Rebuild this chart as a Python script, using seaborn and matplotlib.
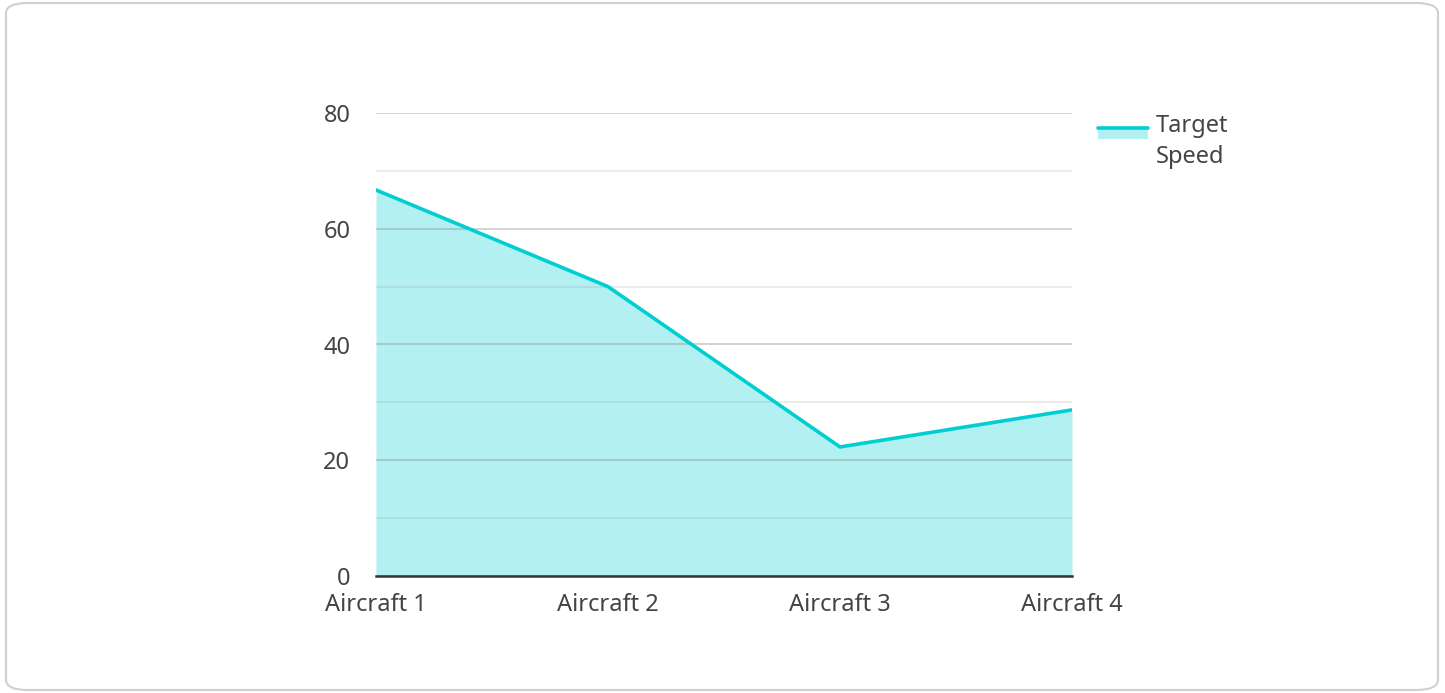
import numpy as np
import pandas as pd
import matplotlib
matplotlib.use("Agg")
import matplotlib.pyplot as plt
import seaborn as sns
from matplotlib.patches import FancyBboxPatch, Rectangle
from matplotlib.lines import Line2D
from matplotlib.legend_handler import HandlerBase
from matplotlib.ticker import MultipleLocator

aircraft = ["Aircraft 1", "Aircraft 2", "Aircraft 3", "Aircraft 4"]
target_speed = [66.7, 50.0, 22.3, 28.7]
series_name = "Target\nSpeed"

line_color = "#00ced1"
text_color = "#444444"

sns.set_style("white")
plt.rcParams["font.family"] = ["Noto Sans", "DejaVu Sans"]

df = pd.DataFrame({"aircraft": aircraft, "speed": target_speed})
df["pos"] = np.arange(len(df))

fig = plt.figure(figsize=(14.45, 6.93), dpi=100)
border = FancyBboxPatch((6 / 1445, 3 / 693), 1432 / 1445, 687 / 693,
                        boxstyle="round,pad=0,rounding_size=0.015",
                        transform=fig.transFigure, facecolor="white",
                        edgecolor="#d0d0d0", linewidth=1.5, zorder=-5)
fig.patches.append(border)

ax = fig.add_axes([376 / 1445, 1 - 576 / 693, (1072 - 376) / 1445, (576 - 113) / 693])
ax.set_facecolor("none")

ax.fill_between(df["pos"], df["speed"], 0, color=line_color, alpha=0.3,
                linewidth=0, zorder=1)
sns.lineplot(data=df, x="pos", y="speed", ax=ax, color=line_color,
             linewidth=2.6, zorder=3, legend=False)

ax.set_xlim(0, 3)
ax.set_ylim(0, 80)
ax.yaxis.set_major_locator(MultipleLocator(20))
ax.yaxis.set_minor_locator(MultipleLocator(10))
ax.grid(which="major", axis="y", color="#808080", alpha=0.4, linewidth=1.2, zorder=2)
ax.grid(which="minor", axis="y", color="#a0a0a0", alpha=0.25, linewidth=1.2, zorder=2)
ax.set_axisbelow(False)
ax.set_xticks(df["pos"])
ax.set_xticklabels(aircraft)
ax.tick_params(axis="both", which="both", length=0, labelsize=17, labelcolor=text_color)
ax.tick_params(axis="x", pad=12.5)
ax.tick_params(axis="y", pad=18.5)
ax.set_xlabel("")
ax.set_ylabel("")
for s in ["top", "right", "left"]:
    ax.spines[s].set_visible(False)
ax.spines["bottom"].set_color("#333333")
ax.spines["bottom"].set_linewidth(1.8)
ax.spines["bottom"].set_zorder(4)


class LineAreaHandler(HandlerBase):
    # swatch sits beside the first text line: line on top, light area under it
    def create_artists(self, legend, orig_handle, xdescent, ydescent, width, height, fontsize, trans):
        y_line = -ydescent + height * 0.65 + 8.6
        rect = Rectangle((-xdescent, y_line - 8.0), width, 8.0,
                         facecolor=line_color, alpha=0.3, edgecolor="none", transform=trans)
        ln = Line2D([-xdescent, -xdescent + width], [y_line] * 2,
                    color=line_color, linewidth=2.6, transform=trans)
        return [rect, ln]


handle = Line2D([], [], color=line_color)
fig.legend([handle], [series_name], handler_map={Line2D: LineAreaHandler()},
           loc="upper left", bbox_to_anchor=(1098 / 1445, 1 - 114 / 693),
           frameon=False, fontsize=17, labelcolor=text_color,
           handlelength=2.1, handleheight=0.7, handletextpad=0.36, borderpad=0,
           borderaxespad=0)
for t in fig.legends[0].get_texts():
    t.set_linespacing(1.38)

fig.savefig("out.png", dpi=100)
